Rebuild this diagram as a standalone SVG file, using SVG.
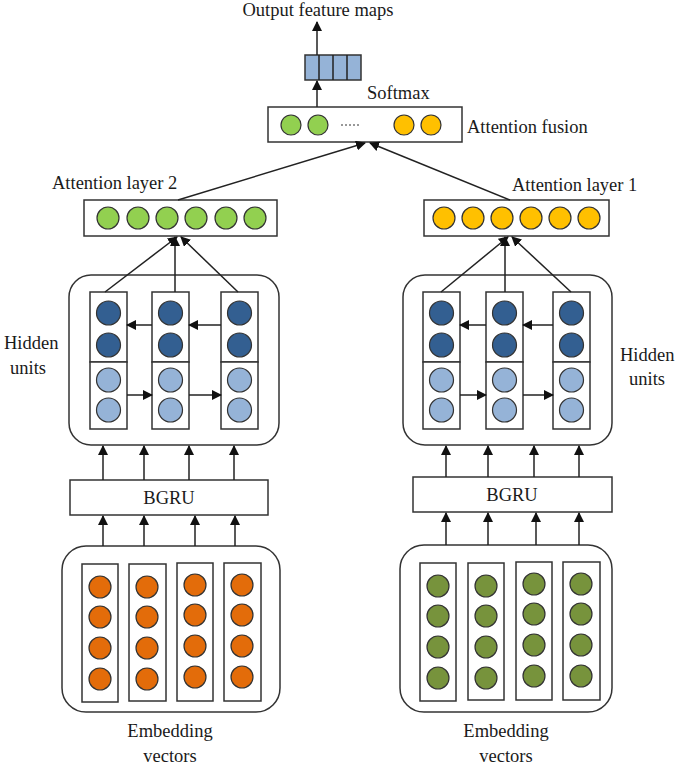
<svg xmlns="http://www.w3.org/2000/svg" width="685" height="766" viewBox="0 0 685 766">
<style>
text{font-family:"Liberation Serif","Times New Roman",serif;font-size:18.5px;fill:#1a1a1a}
.b{fill:#fff;stroke:#333;stroke-width:1.5}
.c{stroke:#333;stroke-width:1.2}
.g{fill:#92d050}.o{fill:#ffc000}.d{fill:#335f91}.l{fill:#95b3d7}.e{fill:#e36c0a}.v{fill:#77933c}
.ln{stroke:#222;stroke-width:1.5;fill:none}
.ar{stroke:#222;stroke-width:1.5;fill:none;marker-end:url(#a)}
</style>
<defs>
<marker id="a" markerWidth="10" markerHeight="10" refX="9" refY="5" orient="auto" markerUnits="userSpaceOnUse"><path d="M0,0L10,5L0,10z" fill="#111"/></marker>
<g id="hcol"><rect class="b" x="0" y="0" width="37" height="70"/><rect class="b" x="0" y="70" width="37" height="67"/>
<circle class="c d" cx="18.5" cy="21" r="12"/><circle class="c d" cx="18.5" cy="53" r="12"/><circle class="c l" cx="18.5" cy="88" r="12"/><circle class="c l" cx="18.5" cy="118" r="12"/></g>
</defs>
<g id="output"><text x="318" y="16" text-anchor="middle">Output feature maps</text></g>
<g id="softmax-vec"><rect class="b l" x="305" y="55" width="56" height="25"/><path class="ln" d="M319,55V80M333,55V80M347,55V80"/>
<text x="367" y="99">Softmax</text></g>
<g id="fusion"><rect class="b" x="268" y="107" width="194" height="35"/>
<circle class="c g" cx="291" cy="125" r="10"/><circle class="c g" cx="318" cy="125" r="10"/>
<path d="M341,125H360" stroke="#333" stroke-dasharray="2,2"/>
<circle class="c o" cx="404" cy="125" r="10"/><circle class="c o" cx="431" cy="125" r="10"/>
<text x="467" y="133">Attention fusion</text></g>
<g id="att2"><text x="52" y="189">Attention layer 2</text><rect class="b" x="84" y="200" width="193" height="36"/>
<circle class="c g" cx="108" cy="218" r="11"/><circle class="c g" cx="138" cy="218" r="11"/><circle class="c g" cx="167" cy="218" r="11"/><circle class="c g" cx="196" cy="218" r="11"/><circle class="c g" cx="226" cy="218" r="11"/><circle class="c g" cx="255" cy="218" r="11"/></g>
<g id="att1"><text x="512" y="191">Attention layer 1</text><rect class="b" x="424" y="200" width="185" height="36"/>
<circle class="c o" cx="444" cy="218" r="11"/><circle class="c o" cx="473" cy="218" r="11"/><circle class="c o" cx="502" cy="218" r="11"/><circle class="c o" cx="531" cy="218" r="11"/><circle class="c o" cx="560" cy="218" r="11"/><circle class="c o" cx="589" cy="218" r="11"/></g>
<g id="hidden-left"><rect class="b" x="69" y="275" width="210" height="170" rx="22"/>
<use href="#hcol" x="90" y="292"/><use href="#hcol" x="152" y="292"/><use href="#hcol" x="221" y="292"/>
<text x="4" y="349">Hidden</text><text x="10" y="374">units</text></g>
<g id="hidden-right"><rect class="b" x="403" y="275" width="209" height="170" rx="22"/>
<use href="#hcol" x="423" y="292"/><use href="#hcol" x="486" y="292"/><use href="#hcol" x="553" y="292"/>
<text x="620" y="361">Hidden</text><text x="629" y="385">units</text></g>
<g id="bgru-left"><rect class="b" x="70" y="480" width="198" height="35"/><text x="169" y="504" text-anchor="middle">BGRU</text></g>
<g id="bgru-right"><rect class="b" x="413" y="477" width="199" height="35"/><text x="512" y="501" text-anchor="middle">BGRU</text></g>
<g id="emb-left"><rect class="b" x="62" y="546" width="218" height="166" rx="24"/>
<g class="c e">
<rect class="b" x="82" y="564" width="36" height="138"/><rect class="b" x="129" y="564" width="37" height="137"/><rect class="b" x="177" y="563" width="36" height="138"/><rect class="b" x="224" y="563" width="37" height="138"/>
<circle cx="100" cy="587" r="11"/><circle cx="100" cy="617" r="11"/><circle cx="100" cy="648" r="11"/><circle cx="100" cy="679" r="11"/>
<circle cx="147" cy="587" r="11"/><circle cx="147" cy="617" r="11"/><circle cx="147" cy="648" r="11"/><circle cx="147" cy="679" r="11"/>
<circle cx="195" cy="585" r="11"/><circle cx="195" cy="615" r="11"/><circle cx="195" cy="646" r="11"/><circle cx="195" cy="677" r="11"/>
<circle cx="242" cy="585" r="11"/><circle cx="242" cy="615" r="11"/><circle cx="242" cy="646" r="11"/><circle cx="242" cy="677" r="11"/></g>
<text x="170" y="737" text-anchor="middle">Embedding</text><text x="170" y="762" text-anchor="middle">vectors</text></g>
<g id="emb-right"><rect class="b" x="400" y="545" width="212" height="167" rx="24"/>
<g class="c v">
<rect class="b" x="420" y="563" width="36" height="138"/><rect class="b" x="468" y="563" width="36" height="137"/><rect class="b" x="516" y="562" width="36" height="138"/><rect class="b" x="563" y="562" width="37" height="138"/>
<circle cx="438" cy="586" r="11"/><circle cx="438" cy="616" r="11"/><circle cx="438" cy="647" r="11"/><circle cx="438" cy="678" r="11"/>
<circle cx="486" cy="586" r="11"/><circle cx="486" cy="616" r="11"/><circle cx="486" cy="647" r="11"/><circle cx="486" cy="678" r="11"/>
<circle cx="534" cy="584" r="11"/><circle cx="534" cy="614" r="11"/><circle cx="534" cy="645" r="11"/><circle cx="534" cy="676" r="11"/>
<circle cx="581" cy="584" r="11"/><circle cx="581" cy="614" r="11"/><circle cx="581" cy="645" r="11"/><circle cx="581" cy="676" r="11"/></g>
<text x="506" y="737" text-anchor="middle">Embedding</text><text x="506" y="762" text-anchor="middle">vectors</text></g>
<g id="connectors">
<path class="ar" d="M317,55V22"/><path class="ar" d="M317,107V81"/>
<path class="ar" d="M178,200L365,143"/><path class="ar" d="M510,200L370,143"/>
<path class="ar" d="M105,292L177,237"/><path class="ar" d="M175,292V237"/><path class="ar" d="M238,292L181,237"/>
<path class="ar" d="M441,292L508,237"/><path class="ar" d="M505,292V237"/><path class="ar" d="M571,292L512,237"/>
<path class="ar" d="M152,325H127"/><path class="ar" d="M221,325H189"/><path class="ar" d="M127,395H152"/><path class="ar" d="M189,395H221"/>
<path class="ar" d="M486,325H460"/><path class="ar" d="M553,325H523"/><path class="ar" d="M460,395H486"/><path class="ar" d="M523,395H553"/>
<path class="ar" d="M103,480V446"/><path class="ar" d="M144,480V446"/><path class="ar" d="M189,480V446"/><path class="ar" d="M234,480V446"/>
<path class="ar" d="M103,546V516"/><path class="ar" d="M144,546V516"/><path class="ar" d="M195,546V516"/><path class="ar" d="M235,546V516"/>
<path class="ar" d="M446,477V446"/><path class="ar" d="M488,477V446"/><path class="ar" d="M534,477V446"/><path class="ar" d="M579,477V446"/>
<path class="ar" d="M446,545V513"/><path class="ar" d="M488,545V513"/><path class="ar" d="M536,545V513"/><path class="ar" d="M579,545V513"/>
</g>
</svg>
